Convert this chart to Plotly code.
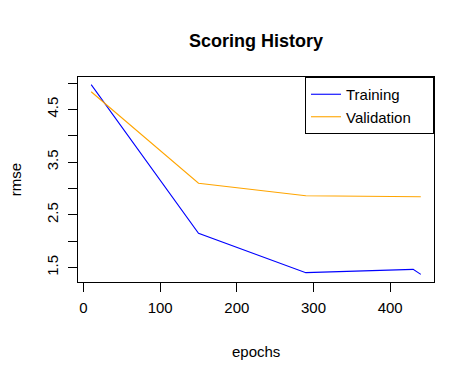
import plotly.graph_objects as go

epochs = [10, 150, 290, 430, 440]
rmse_training = [4.97, 2.15, 1.405, 1.467, 1.372]
rmse_validation = [4.835, 3.10, 2.862, 2.852, 2.843]

x_ticks = [0, 100, 200, 300, 400]
y_ticks = [1.5, 2.0, 2.5, 3.0, 3.5, 4.0, 4.5, 5.0]
y_tick_labels = ["1.5", "", "2.5", "", "3.5", "", "4.5", ""]

FONT = "Liberation Sans, Arial, sans-serif"
PAD = "\u00a0" * 4

fig = go.Figure()
fig.add_trace(go.Scatter(x=epochs, y=rmse_training, mode="lines", name="Training" + PAD,
                         line=dict(color="#0000FF", width=1.1)))
fig.add_trace(go.Scatter(x=epochs, y=rmse_validation, mode="lines", name="Validation" + PAD,
                         line=dict(color="#FFA500", width=1.1)))

fig.update_layout(
    width=474, height=379,
    margin=dict(l=78, r=40, t=77, b=97, pad=0),
    paper_bgcolor="white", plot_bgcolor="white",
    font=dict(family=FONT, size=15, color="black"),
    title=dict(text="<b>Scoring History</b>", x=0.5, xref="paper", xanchor="center",
               y=1 - 40.7 / 379, yref="container", yanchor="middle",
               font=dict(family=FONT, size=18, color="black")),
    showlegend=True,
    legend=dict(x=1, y=1, xanchor="right", yanchor="top", xref="paper", yref="paper",
                bordercolor="black", borderwidth=1, bgcolor="white",
                font=dict(family=FONT, size=15, color="black"),
                tracegroupgap=0, itemwidth=30),
    xaxis=dict(range=[-7.2, 457.2], tickvals=x_ticks, ticktext=[str(v) for v in x_ticks],
               showgrid=False, zeroline=False, showline=True, mirror=True,
               linecolor="black", linewidth=1, ticks="outside", ticklen=9,
               tickcolor="black", tickwidth=1, tickfont=dict(size=15),
               ticklabelstandoff=3),
    yaxis=dict(range=[1.228, 5.114], tickvals=y_ticks, ticktext=y_tick_labels,
               showgrid=False, zeroline=False, showline=True, mirror=True,
               linecolor="black", linewidth=1, ticks="outside", ticklen=9,
               tickcolor="black", tickwidth=1, tickangle=-90, tickfont=dict(size=15),
               ticklabelstandoff=4),
    annotations=[
        dict(text="epochs", x=0.5, y=-69 / 204.4, xref="paper", yref="paper",
             xanchor="center", yanchor="middle", showarrow=False,
             font=dict(family=FONT, size=15, color="black")),
        dict(text="rmse", x=-62.2 / 356.3, y=0.5, xref="paper", yref="paper",
             xanchor="center", yanchor="middle", textangle=-90, showarrow=False,
             font=dict(family=FONT, size=15, color="black")),
    ],
)

fig.write_html("out.html", config={"displayModeBar": False},
               post_script="document.body.style.margin='0';")
